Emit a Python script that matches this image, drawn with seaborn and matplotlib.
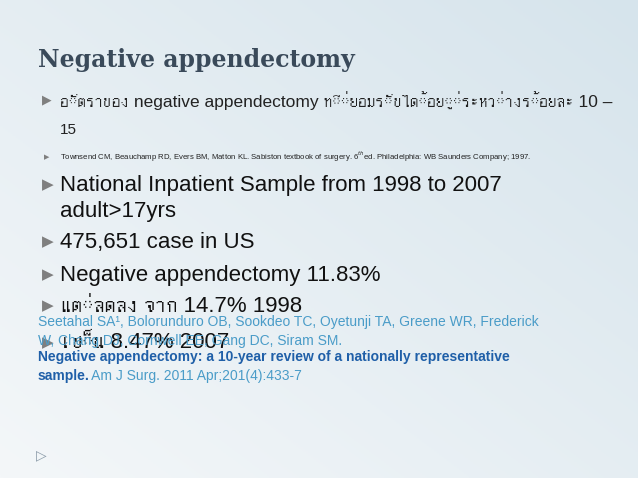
import matplotlib
matplotlib.use("Agg")
import matplotlib.pyplot as plt
from matplotlib import font_manager
from matplotlib.ft2font import FT2Font
import seaborn as sns
import numpy as np

sns.set_theme(style="white")
FAM = ['Liberation Sans', 'DejaVu Sans']
thai_fam = []
for path in font_manager.findSystemFonts():
    try:
        f = FT2Font(path)
        if 0x0E01 in f.get_charmap():
            name = font_manager.FontProperties(fname=path).get_name()
            if name not in thai_fam:
                thai_fam.append(name)
    except Exception:
        pass
FAM = FAM + thai_fam[:1]
plt.rcParams['font.family'] = FAM

title = "Negative appendectomy"
bullets_small = ["อัตราของ negative appendectomy ที่ยอมรับได้อยู่ระหว่างร้อยละ 10 –", "15"]
ref_line = "Townsend CM, Beauchamp RD, Evers BM, Matton KL. Sabiston textbook of surgery. 6$^{th}$ed. Philadelphia: WB Saunders Company; 1997."
big_lines = ["National Inpatient Sample from 1998 to 2007", "adult>17yrs", "475,651 case in US",
             "Negative appendectomy 11.83%", "แต่ลดลง จาก 14.7% 1998", "เป็น 8.47% 2007"]
big_y = [185, 212, 242, 275, 306, 343]
big_bullet = [True, False, True, True, True, True]
cite_links = ["Seetahal SA¹, Bolorunduro OB, Sookdeo TC, Oyetunji TA, Greene WR, Frederick",
              "W, Chang DJ, Cornwell EE, Gang DC, Siram SM."]
cite_bold = ["Negative appendectomy: a 10-year review of a nationally representative", "sample."]
cite_tail = " Am J Surg. 2011 Apr;201(4):433-7"

W, H = 638, 478
fig = plt.figure(figsize=(6.38, 4.78), dpi=100)
bg = fig.add_axes([0, 0, 1, 1])
g = np.linspace(0, 1, 256)
grad = np.outer(np.linspace(1, 0, 256), np.ones(256)) * 0.5 + np.outer(np.ones(256), g) * 0.5
bg.imshow(grad, cmap=matplotlib.colors.LinearSegmentedColormap.from_list("b", ["#f4f7f9", "#d6e4ec"]),
          extent=[0, 1, 0, 1], aspect='auto')
bg.axis('off')

def T(x, y, s, **kw):
    fig.text(x / W, 1 - y / H, s, va='center', ha='left', **kw)

def tri(x, y, size=9, color="#7f7f7f"):
    T(x, y, "▶", fontsize=size, color=color, family='DejaVu Sans')

T(38, 60, title, fontsize=17, fontweight='bold', color="#3a4a5a", family='DejaVu Serif')
tri(42, 100, 9)
T(60, 100, bullets_small[0], fontsize=12.5, color="#222222")
T(60, 130, bullets_small[1], fontsize=11, color="#222222")
tri(44, 157, 5)
T(60, 157, ref_line, fontsize=5.6, color="#222222")
for s, y, b in zip(big_lines, big_y, big_bullet):
    if b:
        tri(42, y, 11)
    T(60, y, s, fontsize=16, color="#111111")
link = "#4a9cc8"
T(38, 322, cite_links[0], fontsize=10, color=link)
T(38, 341, cite_links[1], fontsize=10, color=link)
T(38, 357, cite_bold[0], fontsize=10, color="#1f5fa8", fontweight='bold')
T(38, 376, cite_bold[1], fontsize=10, color="#1f5fa8", fontweight='bold')
T(88, 376, cite_tail, fontsize=10, color=link)
T(36, 455, "▷", fontsize=10, color="#8a9aa8", family='DejaVu Sans')

fig.savefig("out.png", dpi=100)
